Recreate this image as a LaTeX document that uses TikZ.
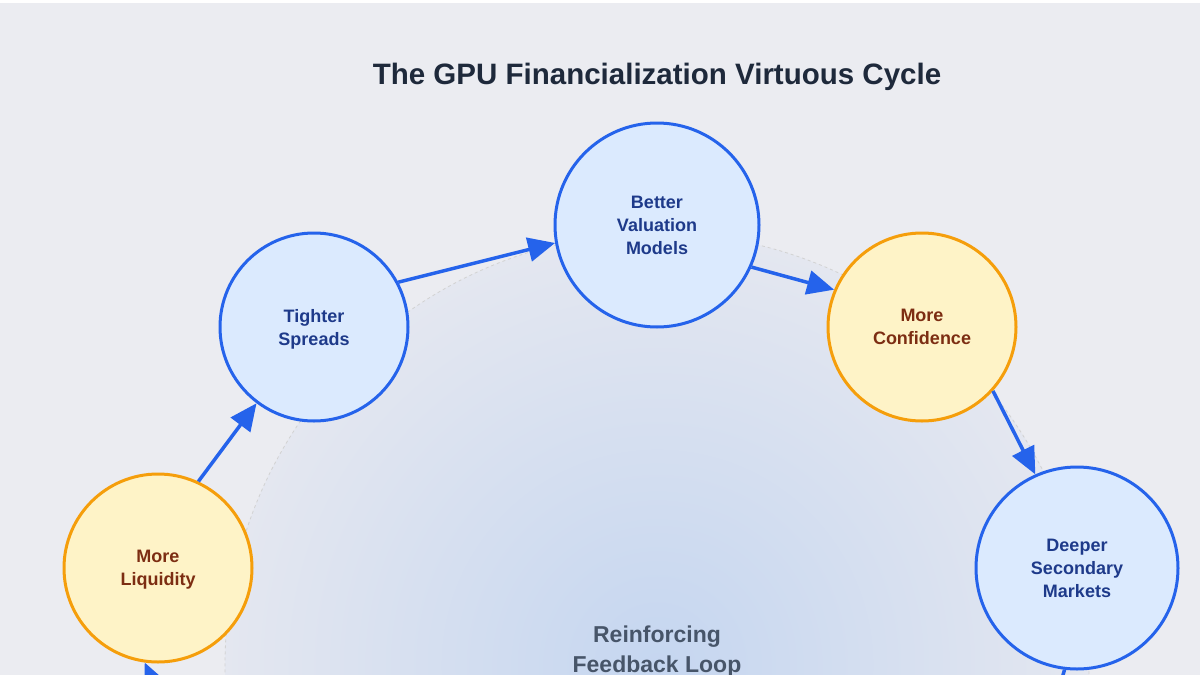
\documentclass[tikz,border=0pt]{standalone}
\usepackage{fontspec}
\setmainfont{Liberation Sans}
\usetikzlibrary{arrows.meta}
\definecolor{bg}{HTML}{EBECF1}
\definecolor{bfill}{HTML}{DBEAFE}
\definecolor{bstroke}{HTML}{2563EB}
\definecolor{btext}{HTML}{1E3A8A}
\definecolor{yfill}{HTML}{FEF3C7}
\definecolor{ystroke}{HTML}{F59E0B}
\definecolor{ytext}{HTML}{7C2D12}
\definecolor{titlec}{HTML}{1E293B}
\definecolor{loopc}{HTML}{475569}
\begin{document}
\begin{tikzpicture}[x=1pt,y=-1pt,
  bnode/.style={circle,draw=bstroke,line width=3pt,fill=bfill,text=btext,font=\bfseries\fontsize{18}{23}\selectfont,align=center,inner sep=0pt,text depth=-12pt},
  ynode/.style={circle,draw=ystroke,line width=3pt,fill=yfill,text=ytext,font=\bfseries\fontsize{18}{23}\selectfont,align=center,inner sep=0pt,text depth=-12pt},
  arr/.style={draw=bstroke,line width=3.5pt,-{Triangle[length=27pt,width=24pt]}}]
\useasboundingbox (0,0) rectangle (1200,675);
\fill[bg] (0,0) rectangle (1200,675);
\fill[white] (0,0) rectangle (1200,3);
\begin{scope}
\clip (0,0) rectangle (1200,675);
\shade[inner color={rgb,255:red,197;green,214;blue,240},outer color={rgb,255:red,228;green,231;blue,240}] (657,665) circle (432);
\draw[gray!35,dashed,line width=0.8pt] (657,665) circle (432);
\end{scope}
\node[font=\bfseries\fontsize{29.5}{34}\selectfont,text=titlec] (title) at (657,77) {The GPU Financialization Virtuous Cycle};
\node[font=\bfseries\fontsize{23}{30}\selectfont,text=loopc,align=center,anchor=north] (loop) at (657,622) {Reinforcing\\Feedback Loop};
\node[bnode,minimum size=204pt] (better) at (657,225) {Better\\Valuation\\Models};
\node[bnode,minimum size=188pt] (tighter) at (314,327) {Tighter\\Spreads};
\node[ynode,minimum size=188pt] (conf) at (922,327) {More\\Confidence};
\node[ynode,minimum size=188pt] (liq) at (158,568) {More\\Liquidity};
\node[bnode,minimum size=202pt] (deeper) at (1077,568) {Deeper\\Secondary\\Markets};
\coordinate (inL) at (170,720);
\coordinate (outR) at (1050,720);
\draw[arr] (liq.65) -- (tighter.233);
\draw[arr] (tighter.28) -- (better.190);
\draw[arr] (better.336) -- (conf.157);
\draw[arr] (conf.-42) -- (deeper.114);
\draw[arr] (inL) -- (liq.262);
\draw[draw=bstroke,line width=3.5pt] (deeper.263) -- (outR);
\end{tikzpicture}
\end{document}
